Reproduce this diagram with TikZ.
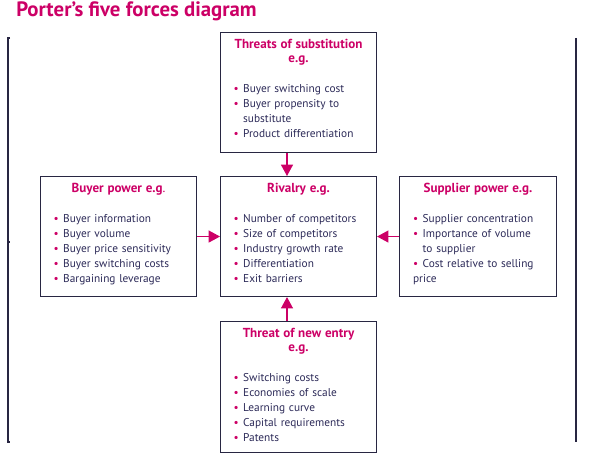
\documentclass[tikz,border=0pt]{standalone}
\usepackage{fontspec}
\setmainfont{PT Sans}
\usetikzlibrary{arrows.meta,positioning}

\definecolor{forcered}{RGB}{204,0,102}
\definecolor{forceink}{RGB}{44,42,88}
\definecolor{forceline}{RGB}{40,38,66}

% Box heading and bullet lines
\newcommand{\fhead}[1]{{\noindent\centering\fontsize{9.8}{11}\selectfont\bfseries
  \color{forcered}#1\par}\vskip\baselineskip}
\newcommand{\fitem}[1]{\par\noindent\hangindent=7.25pt\hangafter=1%
  \makebox[7.25pt][l]{\textcolor{forcered}{\textbullet}}#1}

\tikzset{
  force/.style={draw=forceline, line width=0.8pt, inner sep=0pt, anchor=north west,
    minimum width=117pt},
  forcetext/.style={anchor=north, text width=97.5pt, align=left, inner sep=0pt,
    font=\fontsize{8.5}{11.25}\selectfont, text=forceink},
  push/.style={draw=forcered, line width=0.8pt, -{Triangle[length=8.5pt,width=9pt]}},
  rule/.style={draw=forceline, line width=1.1pt}
}

\begin{document}
\begin{tikzpicture}[x=0.75pt,y=-0.75pt]

% Page frame
\useasboundingbox (0,0) rectangle (594,466);

% Title
\node[anchor=base west, inner sep=0pt, text=forcered,
  font=\fontsize{15.6}{18}\selectfont\bfseries] (title) at (16,17) {Porter's five forces diagram};

% Side rules
\draw[rule] (10,38) -- (8,38) -- (8,442) -- (10,442);
\draw[rule] (8,242) -- (9.5,242);
\draw[rule] (576,38) -- (576,442);

% Force boxes
\node[force, minimum height=90pt] (subst) at (220,32) {};
\node[force, minimum height=90pt] (rivalry) at (220,176) {};
\node[force, minimum height=90pt] (buyer) at (40,176) {};
\node[force, minimum height=90pt, minimum width=117.75pt] (supplier) at (399,176) {};
\node[force, minimum height=98.25pt] (entry) at (220,321) {};

% Box contents
\node[forcetext, below=5pt of subst.north] (substtext) {%
  \fhead{Threats of substitution\\ e.g.}%
  \fitem{Buyer switching cost}%
  \fitem{Buyer propensity to\newline substitute}%
  \fitem{Product differentiation}};

\node[forcetext, below=5pt of rivalry.north] (rivalrytext) {%
  \fhead{Rivalry e.g.}%
  \fitem{Number of competitors}%
  \fitem{Size of competitors}%
  \fitem{Industry growth rate}%
  \fitem{Differentiation}%
  \fitem{Exit barriers}};

\node[forcetext, below=5pt of buyer.north] (buyertext) {%
  \fhead{Buyer power e.g{\mdseries.}}%
  \fitem{Buyer information}%
  \fitem{Buyer volume}%
  \fitem{Buyer price sensitivity}%
  \fitem{Buyer switching costs}%
  \fitem{Bargaining leverage}};

\node[forcetext, below=5pt of supplier.north] (suppliertext) {%
  \fhead{Supplier power e.g.}%
  \fitem{Supplier concentration}%
  \fitem{Importance of volume\newline to supplier}%
  \fitem{Cost relative to selling\newline price}};

\node[forcetext, below=5pt of entry.north] (entrytext) {%
  \fhead{Threat of new entry\\ e.g.}%
  \fitem{Switching costs}%
  \fitem{Economies of scale}%
  \fitem{Learning curve}%
  \fitem{Capital requirements}%
  \fitem{Patents}};

% Forces acting on rivalry
\coordinate (axis) at (287,0);
\draw[push] (subst.south -| axis) -- (rivalry.north -| axis);
\draw[push] (entry.north -| axis) -- (rivalry.south -| axis);
\draw[push] (buyer) -- (rivalry);
\draw[push] (supplier) -- (rivalry);

\end{tikzpicture}
\end{document}
